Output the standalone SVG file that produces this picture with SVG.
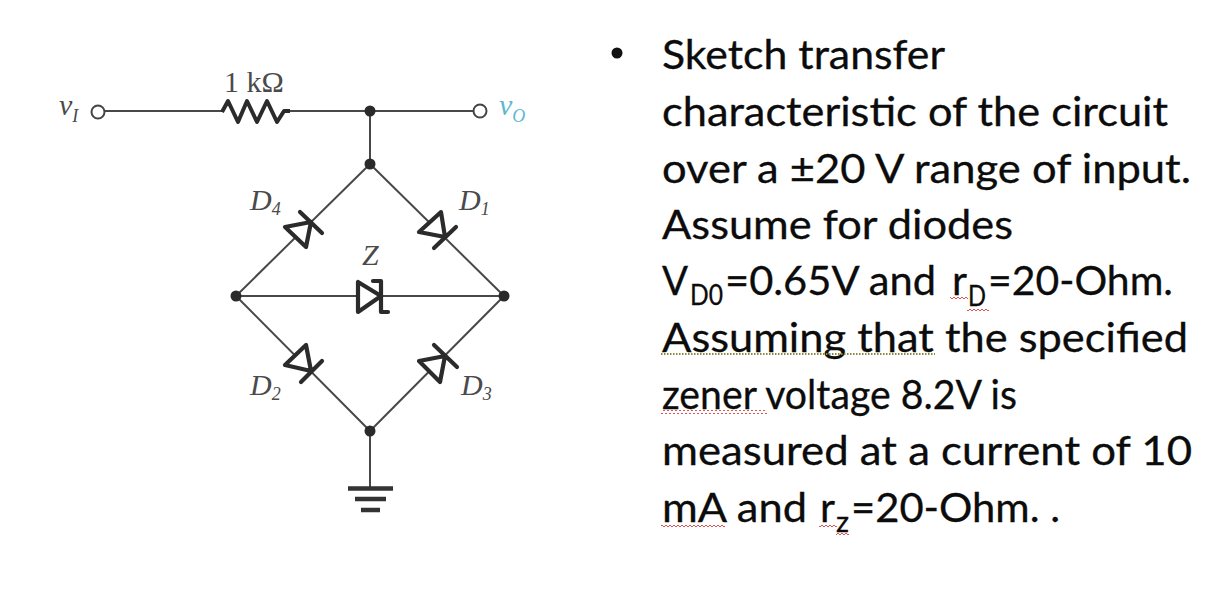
<svg xmlns="http://www.w3.org/2000/svg" width="1229" height="592" viewBox="0 0 1229 592">
<style>
.w{fill:none;stroke:#484848;stroke-width:2}
.d{fill:#fff;stroke:#2b2b2b;stroke-width:4.200;stroke-linejoin:round;stroke-linecap:round}
.zb{fill:none}
.n{fill:#2a2a2a}
.o{fill:#fff;stroke:#444;stroke-width:2}
.g{stroke:#333;stroke-width:4.500}
.s{font-family:"Liberation Serif",serif;fill:#4a4a4a;font-size:30px}
.i{font-style:italic}
.b{font-size:18px}
.c{fill:#5bb8d2}
.t{font-family:Lato,"Open Sans",sans-serif;font-size:41px;fill:#0c0c0c;stroke:#0c0c0c;stroke-width:.3}
.u{font-size:28px}
</style>
<defs>
<pattern id="wave" width="4" height="4" patternUnits="userSpaceOnUse"><path d="M0 3L2 1L4 3" fill="none" stroke="#d9534f" stroke-width="1"/></pattern>
</defs>
<rect width="1229" height="592" fill="#fff"/>
<g id="connectors">
<path class="w" d="M105 111H222M285 111H473M370 111V164M370 164L236 296M370 164L504 296M236 296H504M236 296L370 431M504 296L370 431M370 431V488"/>
</g>
<g id="vi"><circle class="o" cx="98" cy="112" r="6.500"/><text class="s i" x="59" y="115">v<tspan class="b" dy="7">I</tspan></text></g>
<g id="resistor"><path d="M222 112L228 101L238 122L247 101L257 122L267 101L277 122L284 111H290" fill="none" stroke="#2b2b2b" stroke-width="4" stroke-linejoin="round"/><text class="s" x="224" y="92">1 kΩ</text></g>
<g id="vo"><circle class="o" cx="480" cy="111" r="6.500"/><text class="s i c" x="499" y="115">v<tspan class="b c" dy="7">O</tspan></text></g>
<g id="j1"><circle class="n" cx="370" cy="111" r="5.500"/></g>
<g id="j2"><circle class="n" cx="370" cy="164" r="5.500"/></g>
<g id="j3"><circle class="n" cx="236" cy="296" r="5.500"/></g>
<g id="j4"><circle class="n" cx="504" cy="296" r="5.500"/></g>
<g id="j5"><circle class="n" cx="370" cy="431" r="5.500"/></g>
<g id="D4"><path class="d" d="M285 227L311 222L306 247ZM300 212L322 233"/><text class="s i" x="250" y="210">D<tspan class="b" dy="5">4</tspan></text></g>
<g id="D1"><path class="d" d="M441 212L419 232L445 237ZM456 227L434 248"/><text class="s i" x="459" y="210">D<tspan class="b" dy="5">1</tspan></text></g>
<g id="D2"><path class="d" d="M306 345L285 365L311 371ZM322 361L301 382"/><text class="s i" x="250" y="395">D<tspan class="b" dy="5">2</tspan></text></g>
<g id="D3"><path class="d" d="M419 361L440 382L445 356ZM434 345L457 367"/><text class="s i" x="461" y="395">D<tspan class="b" dy="5">3</tspan></text></g>
<g id="Z"><path class="d" d="M358 282V312L381 296Z"/><path class="d zb" d="M373 281H381V312H388"/><text class="s i" x="362" y="265">Z</text></g>
<g id="ground"><path class="g" d="M348 488.500H393M355 499H386M361 510H380"/></g>
<g id="bullet"><circle cx="617" cy="53" r="5.500" fill="#111"/></g>
<g id="text">
<text class="t" x="662" y="69" textLength="283" lengthAdjust="spacingAndGlyphs">Sketch transfer</text>
<text class="t" x="662" y="126" textLength="506" lengthAdjust="spacingAndGlyphs">characteristic of the circuit</text>
<text class="t" x="662" y="183" textLength="529" lengthAdjust="spacingAndGlyphs">over a ±20 V range of input.</text>
<text class="t" x="662" y="239" textLength="351" lengthAdjust="spacingAndGlyphs">Assume for diodes</text>
<text class="t" x="662" y="295" textLength="26" lengthAdjust="spacingAndGlyphs">V</text>
<text class="t u" x="690" y="305" textLength="33" lengthAdjust="spacingAndGlyphs">D0</text>
<text class="t" x="725" y="295" textLength="211" lengthAdjust="spacingAndGlyphs">=0.65V and</text>
<text class="t" x="952" y="295" textLength="15" lengthAdjust="spacingAndGlyphs">r</text>
<text class="t u" x="968" y="306" textLength="18" lengthAdjust="spacingAndGlyphs">D</text>
<text class="t" x="988" y="295" textLength="185" lengthAdjust="spacingAndGlyphs">=20-Ohm.</text>
<text class="t" x="662" y="352" textLength="526" lengthAdjust="spacingAndGlyphs">Assuming that the specified</text>
<text class="t" x="662" y="409" textLength="355" lengthAdjust="spacingAndGlyphs">zener voltage 8.2V is</text>
<text class="t" x="662" y="465" textLength="530" lengthAdjust="spacingAndGlyphs">measured at a current of 10</text>
<text class="t" x="662" y="522" textLength="145" lengthAdjust="spacingAndGlyphs">mA and</text>
<text class="t" x="820" y="522" textLength="15" lengthAdjust="spacingAndGlyphs">r</text>
<text class="t u" x="836" y="532" textLength="13" lengthAdjust="spacingAndGlyphs">z</text>
<text class="t" x="851" y="522" textLength="209" lengthAdjust="spacingAndGlyphs">=20-Ohm. .</text>
<path d="M661 354H935" stroke="#8a8a3a" stroke-width="2" stroke-dasharray="1.500 1.500" fill="none"/>
<rect x="661" y="410" width="106" height="4" fill="url(#wave)"/>
<rect x="661" y="523" width="64" height="4" fill="url(#wave)"/>
<rect x="819" y="523" width="18" height="4" fill="url(#wave)"/>
<rect x="836" y="533" width="13" height="4" fill="url(#wave)"/>
<rect x="950" y="297" width="18" height="4" fill="url(#wave)"/>
<rect x="967" y="307" width="22" height="4" fill="url(#wave)"/>
</g>
</svg>
